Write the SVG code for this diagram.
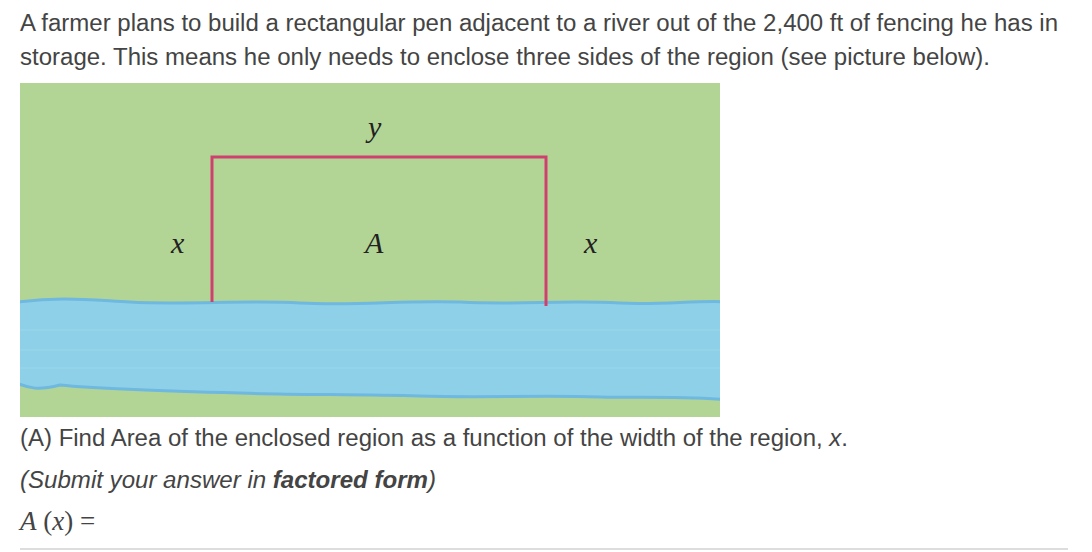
<svg xmlns="http://www.w3.org/2000/svg" width="1092" height="552" viewBox="0 0 1092 552">
<style>
.t{font-family:"Liberation Sans",Arial,sans-serif;font-size:23px;fill:#444}
.m{font-family:"Liberation Serif","Times New Roman",serif;font-style:italic;font-size:30px;fill:#222}
.fence{fill:none;stroke:#d0406e;stroke-width:3}
</style>
<defs><clipPath id="c"><rect x="20" y="83" width="700" height="334"/></clipPath></defs>
<rect width="1092" height="552" fill="#fff"/>
<text class="t" x="20" y="31" textLength="1038" lengthAdjust="spacingAndGlyphs">A farmer plans to build a rectangular pen adjacent to a river out of the 2,400 ft of fencing he has in</text>
<text class="t" x="20" y="65" textLength="970" lengthAdjust="spacingAndGlyphs">storage. This means he only needs to enclose three sides of the region (see picture below).</text>
<g id="scene">
<rect x="20" y="83" width="700" height="334" fill="#b2d596"/>
<g clip-path="url(#c)">
<path d="M10,303 C60,296 90,300 130,302 C180,305 250,300 300,303 C360,306 400,300 460,302 C520,305 560,300 620,303 C660,305 700,300 730,302 L730,400 C680,396 640,398 600,397 C540,395 480,398 420,396 C360,394 300,395 240,393 C160,391 100,389 60,385 C40,390 30,390 10,380 Z" fill="#8ed0e8" stroke="#6fb8e0" stroke-width="3"/>
</g>
<path d="M20,330 H720 M20,350 H720 M20,368 H720" stroke="#a5dbee" stroke-width="1" opacity="0.6"/>
<path class="fence" d="M212,302 V157 H546 V306"/>
<text class="m" x="368" y="137">y</text>
<text class="m" x="171" y="253">x</text>
<text class="m" x="365" y="253">A</text>
<text class="m" x="584" y="253">x</text>
</g>
<text class="t" x="20" y="446" textLength="828" lengthAdjust="spacingAndGlyphs">(A) Find Area of the enclosed region as a function of the width of the region, <tspan font-style="italic">x</tspan>.</text>
<text class="t" x="20" y="488" font-style="italic" textLength="416" lengthAdjust="spacingAndGlyphs">(Submit your answer in <tspan font-weight="bold">factored form</tspan>)</text>
<text x="20" y="530" font-family="Liberation Serif,serif" font-size="27" fill="#444"><tspan font-style="italic">A</tspan> (<tspan font-style="italic">x</tspan>) =</text>
<line x1="20" y1="549" x2="1068" y2="549" stroke="#ddd" stroke-width="2"/>
</svg>
